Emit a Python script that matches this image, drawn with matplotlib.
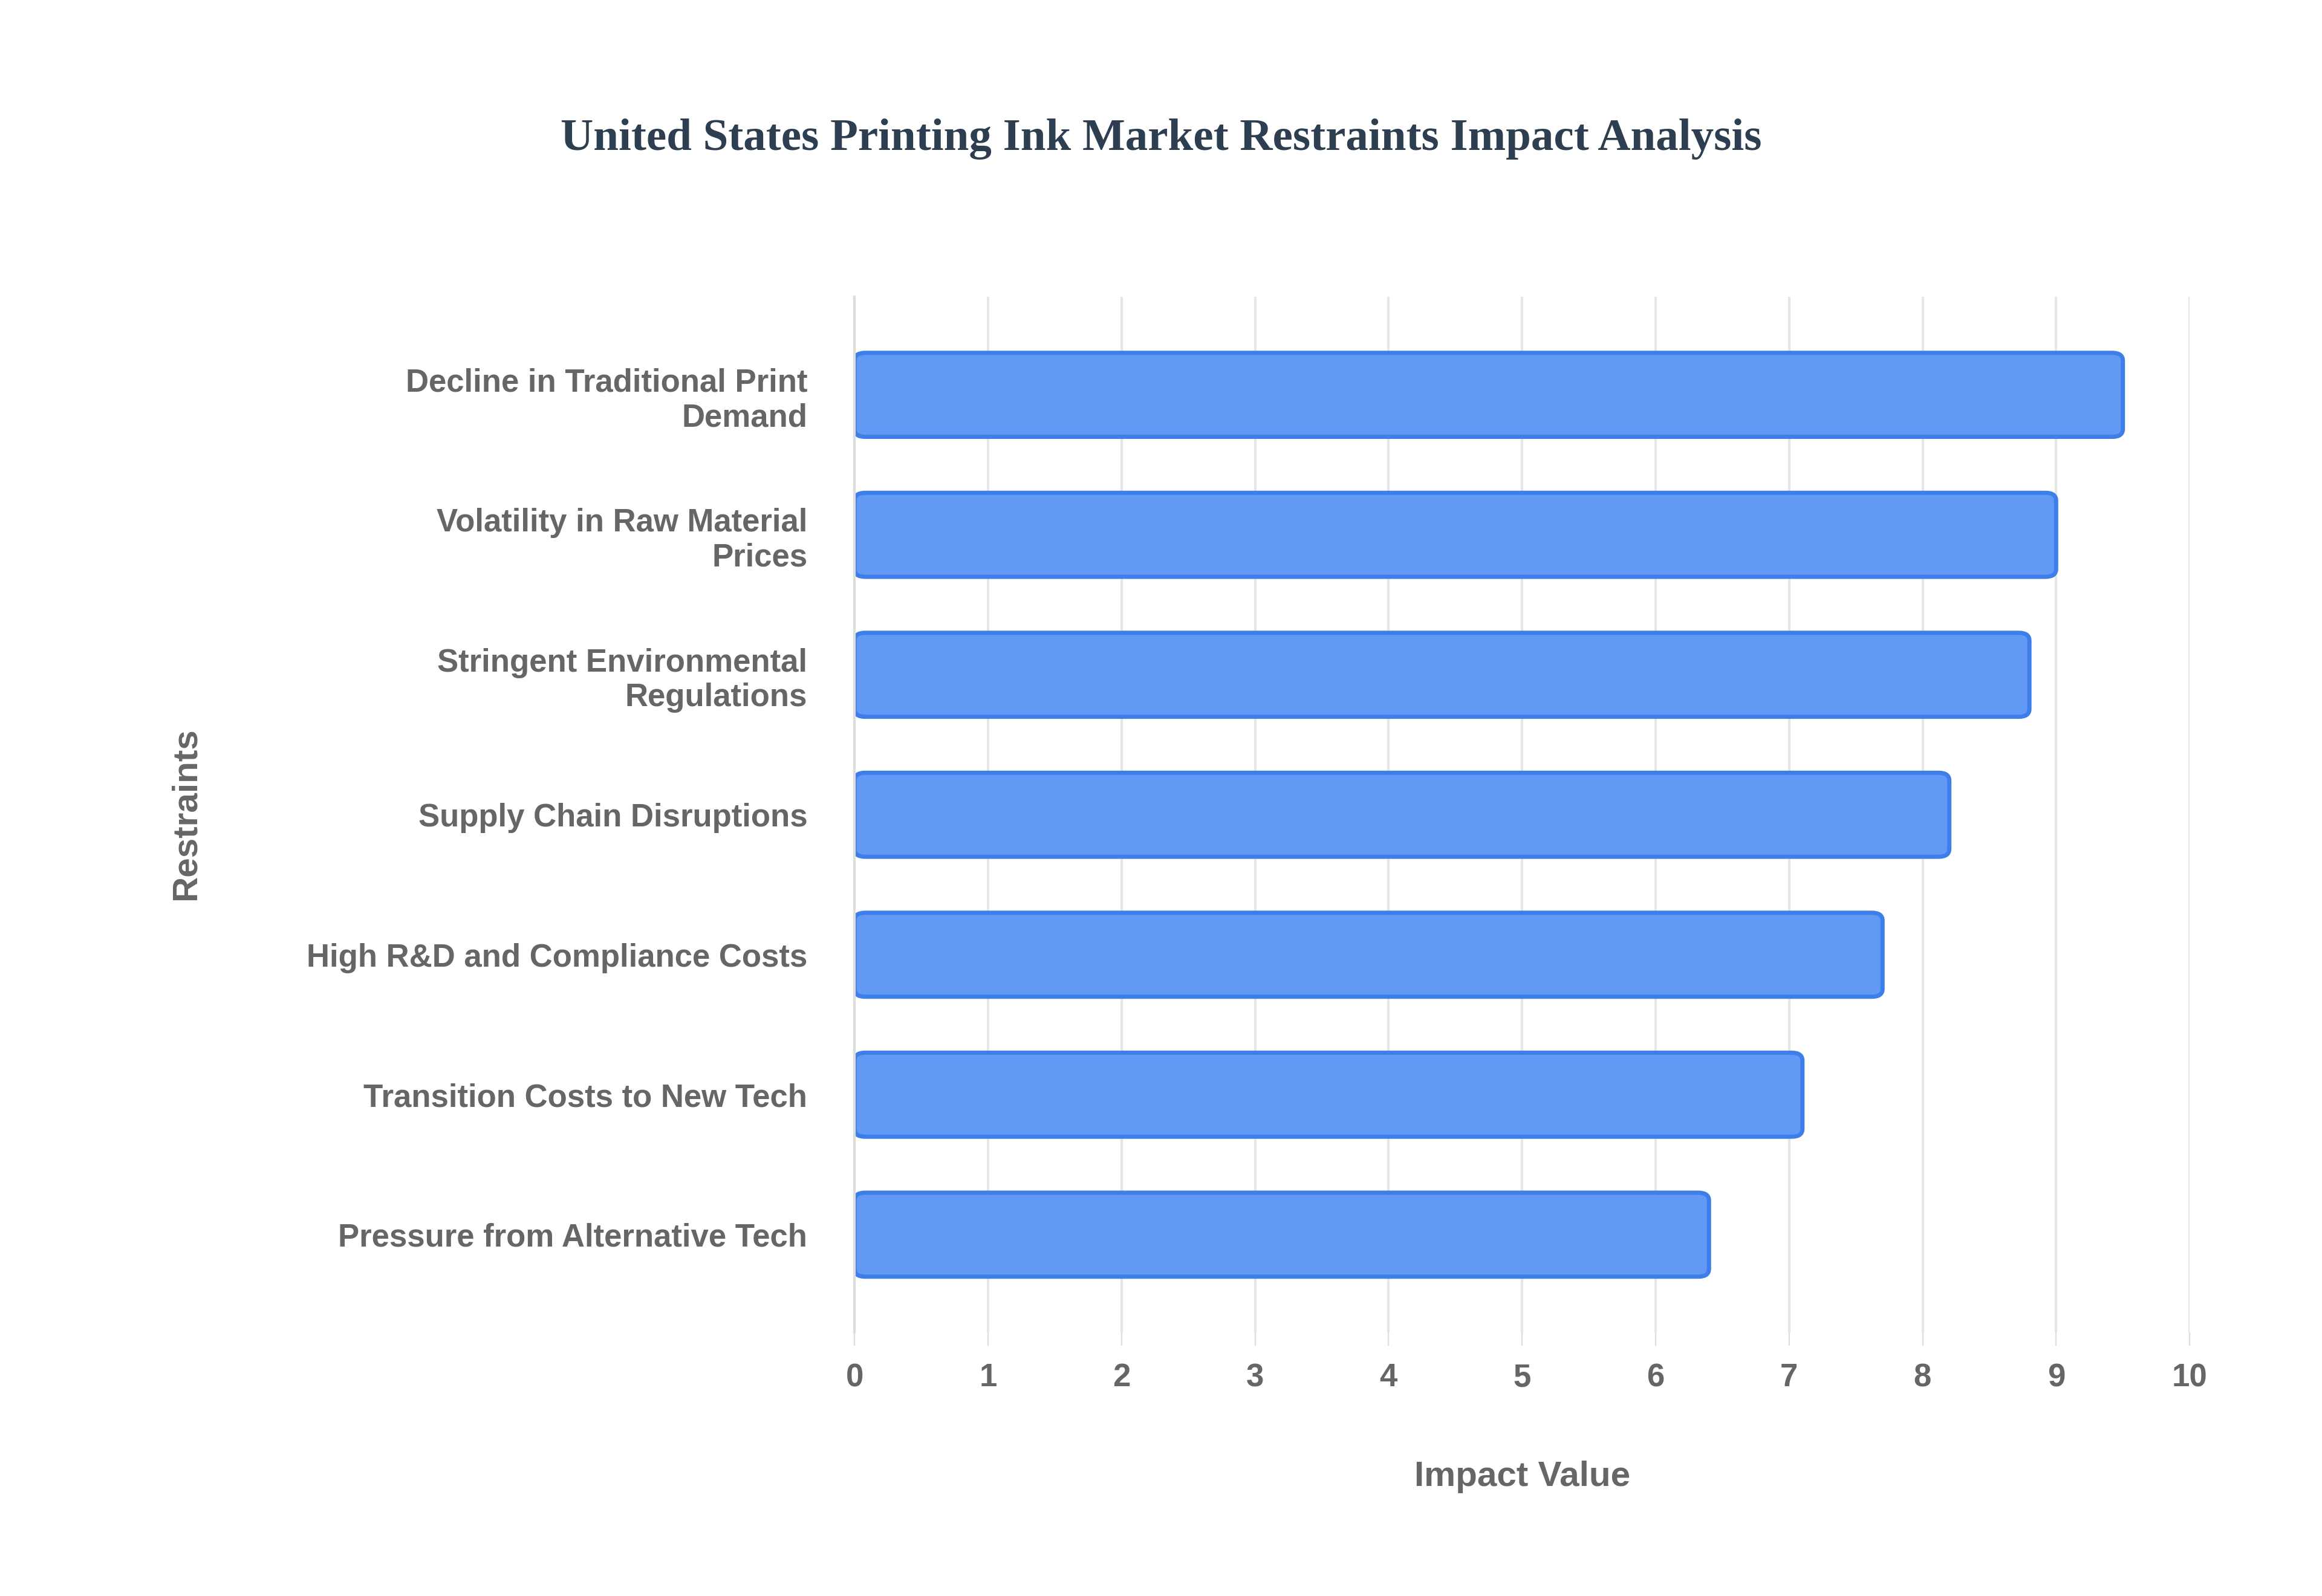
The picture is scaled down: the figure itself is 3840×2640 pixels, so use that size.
import matplotlib
matplotlib.use("Agg")
import matplotlib.pyplot as plt
from matplotlib.patches import FancyBboxPatch

restraints = [
    "Decline in Traditional Print\nDemand",
    "Volatility in Raw Material\nPrices",
    "Stringent Environmental\nRegulations",
    "Supply Chain Disruptions",
    "High R&D and Compliance Costs",
    "Transition Costs to New Tech",
    "Pressure from Alternative Tech",
]
impact = [9.5, 9.0, 8.8, 8.2, 7.7, 7.1, 6.4]

fig = plt.figure(figsize=(19.2, 13.2), dpi=200)
ax = fig.add_axes([0.368, 0.165, 0.575, 0.649])

ypos = list(range(len(restraints)))[::-1]
bar_h = 0.6
for y, v in zip(ypos, impact):
    ax.add_patch(FancyBboxPatch((0, y - bar_h / 2), v, bar_h,
                                boxstyle="round,pad=0,rounding_size=0.08",
                                mutation_aspect=1 / 10 * 7,
                                facecolor="#6199f4", edgecolor="#3d7ee9", linewidth=2.5))

ax.set_xlim(0, 10)
ax.set_ylim(-0.7, len(restraints) - 0.3)
ax.set_xticks(range(11))
ax.set_yticks(ypos)
ax.set_yticklabels(restraints, ha="right")
ax.grid(axis="x", color="#e6e6e6", linewidth=1.5)
ax.set_axisbelow(True)
for s in ["top", "right", "bottom"]:
    ax.spines[s].set_visible(False)
ax.spines["left"].set_color("#dddddd")
ax.spines["left"].set_linewidth(1.5)
ax.tick_params(axis="y", length=0, pad=28)
ax.tick_params(axis="x", length=8, color="#dddddd", pad=10)
for lab in ax.get_xticklabels() + ax.get_yticklabels():
    lab.set_family("Liberation Sans")
    lab.set_fontweight("bold")
    lab.set_color("#666666")
    lab.set_fontsize(19)

ax.set_xlabel("Impact Value", family="Liberation Sans", fontweight="bold",
              color="#666666", fontsize=21, labelpad=40)
fig.text(0.08, 0.49, "Restraints", rotation=90, family="Liberation Sans",
         fontweight="bold", color="#666666", fontsize=21, ha="center", va="center")
fig.text(0.5, 0.913, "United States Printing Ink Market Restraints Impact Analysis",
         family="Liberation Serif", fontweight="bold", color="#2c3e50",
         fontsize=27, ha="center", va="center")

fig.savefig("out.png", dpi=200, facecolor="white")
